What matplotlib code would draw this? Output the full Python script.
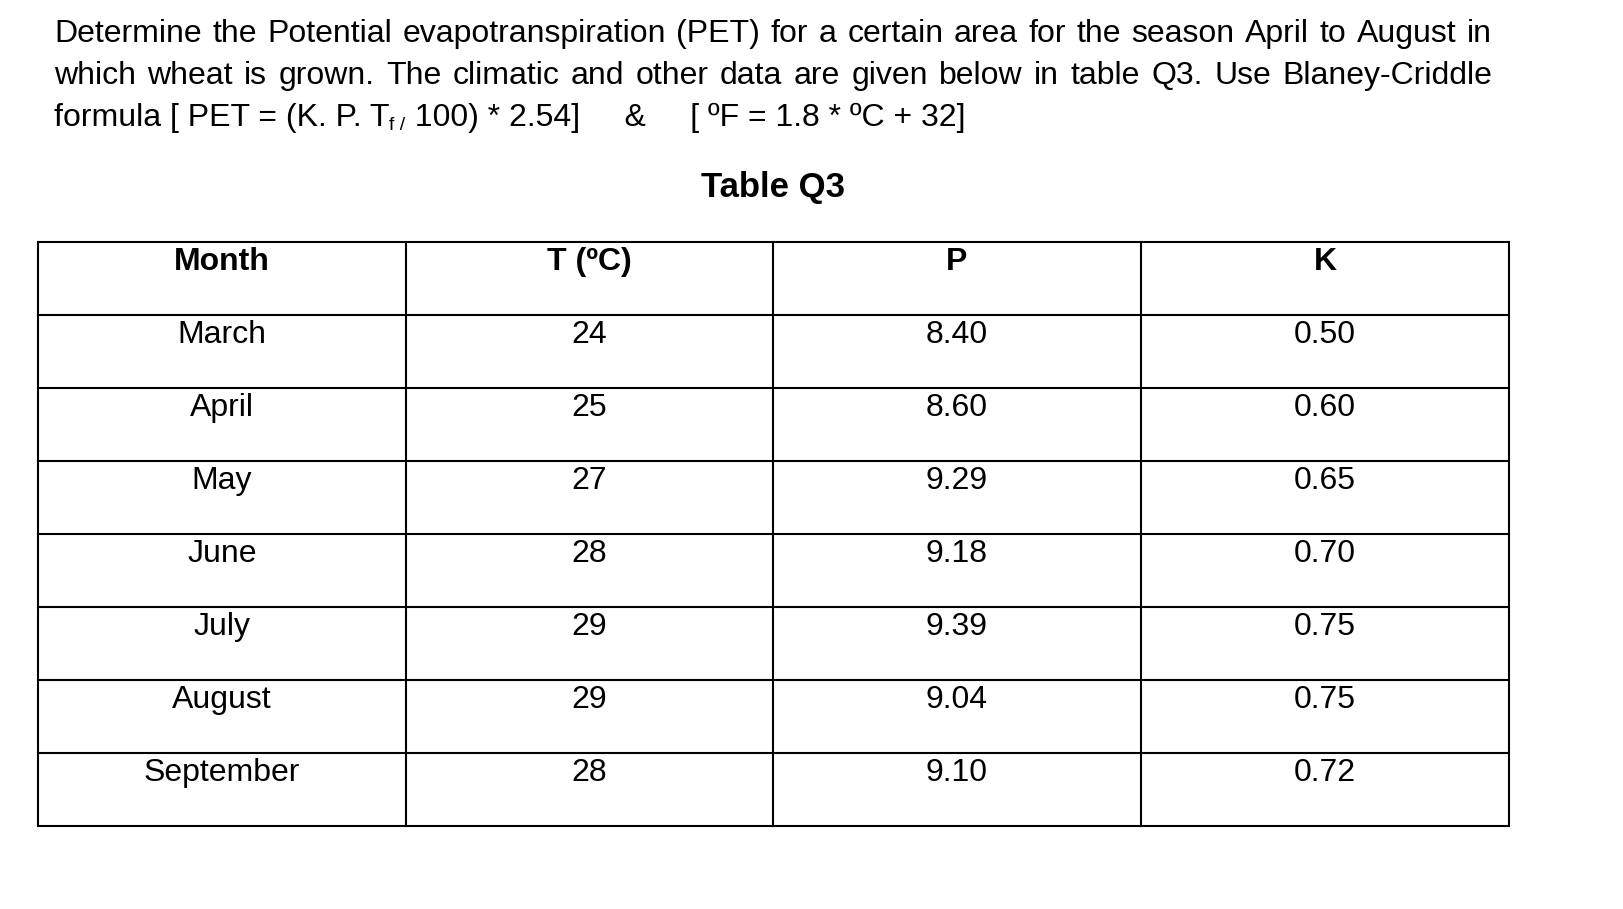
import matplotlib
matplotlib.use("Agg")
import matplotlib.pyplot as plt

plt.rcParams['font.family'] = ['Liberation Sans', 'DejaVu Sans']

intro_lines = [
    "Determine the Potential evapotranspiration (PET) for a certain area for the season April to August in",
    "which wheat is grown. The climatic and other data are given below in table Q3. Use Blaney-Criddle",
]
formula_parts = [("formula [ PET = (K. P. T", 23), ("f /", 14), (" 100) * 2.54]     &     [ ºF = 1.8 * ºC + 32]", 23)]

headers = ["Month", "T (ºC)", "P", "K"]
months = ["March", "April", "May", "June", "July", "August", "September"]
temps = ["24", "25", "27", "28", "29", "29", "28"]
p_vals = ["8.40", "8.60", "9.29", "9.18", "9.39", "9.04", "9.10"]
k_vals = ["0.50", "0.60", "0.65", "0.70", "0.75", "0.75", "0.72"]

W, H = 1624, 909
fig = plt.figure(figsize=(W / 100, H / 100), dpi=100)
ax = fig.add_axes([0, 0, 1, 1])
ax.set_xlim(0, W)
ax.set_ylim(H, 0)
ax.axis('off')
fig.canvas.draw()
rend = fig.canvas.get_renderer()


def width_px(t):
    return t.get_window_extent(renderer=rend).width


# justified intro lines
left, right = 54, 1492
fs = 23
for i, line in enumerate(intro_lines):
    y = 42 + 42 * i
    words = line.split()
    objs = [ax.text(0, y, w, fontsize=fs, va='baseline') for w in words]
    widths = [width_px(o) for o in objs]
    gap = (right - left - sum(widths)) / (len(words) - 1)
    x = left
    for o, w in zip(objs, widths):
        o.set_x(x)
        x += w + gap

# formula line with subscript
x = left
for txt, size in formula_parts:
    dy = 4 if size < fs else 0
    o = ax.text(x, 126 + dy, txt, fontsize=size, va='baseline')
    x += width_px(o)

ax.text(773, 188, "Table Q3", fontsize=25, fontweight='bold', ha='center', va='center')

# table grid
cols = [38, 406, 773, 1141, 1509]
rows = [242 + i * 73 for i in range(len(months) + 2)]
for c in cols:
    ax.plot([c, c], [rows[0], rows[-1]], color='black', lw=1.5)
for r in rows:
    ax.plot([cols[0], cols[-1]], [r, r], color='black', lw=1.5)

centers = [(cols[j] + cols[j + 1]) / 2 for j in range(4)]
for j, h in enumerate(headers):
    ax.text(centers[j], rows[0] + 20, h, fontsize=23, fontweight='bold', ha='center', va='center')
for i in range(len(months)):
    y = rows[i + 1] + 20
    for j, v in enumerate([months[i], temps[i], p_vals[i], k_vals[i]]):
        ax.text(centers[j], y, v, fontsize=23, ha='center', va='center')

fig.savefig('out.png', dpi=100)
